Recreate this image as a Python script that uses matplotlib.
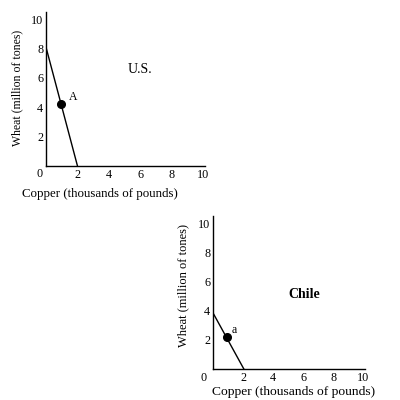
import numpy as np
import matplotlib.pyplot as plt

plt.rcParams['font.family'] = ['Liberation Serif', 'DejaVu Serif']

ticks = [2, 4, 6, 8, 10]
x_label = "Copper (thousands of pounds)"
y_label = "Wheat (million of tones)"

# production possibility lines (copper, wheat)
us_copper = [0, 2.0]
us_wheat = [8.1, 0]
us_point = (0.95, 4.25)

chile_copper = [0, 2.05]
chile_wheat = [3.85, 0]
chile_point = (0.9, 2.2)


def draw_panel(ax, copper, wheat, point, point_name, country, name_pos, country_pos,
               country_weight, zero_pos):
    ax.plot(copper, wheat, color="black", lw=1.0)
    ax.plot(*point, "o", color="black", ms=5.5)
    ax.text(name_pos[0], name_pos[1], point_name, ha="center", va="center", fontsize=8.5)
    ax.text(country_pos[0], country_pos[1], country, ha="center", va="center",
            fontsize=10, fontweight=country_weight)
    ax.set_xlim(0, 10.1)
    ax.set_ylim(0, 10.5)
    for s in ["top", "right"]:
        ax.spines[s].set_visible(False)
    for s in ["left", "bottom"]:
        ax.spines[s].set_linewidth(1.0)
    ax.set_xticks(ticks)
    ax.set_yticks(ticks)
    ax.tick_params(length=0, labelsize=8.7, pad=2)
    ax.text(zero_pos[0], zero_pos[1], "0", ha="center", va="top", fontsize=8.7)


fig = plt.figure(figsize=(4, 4), dpi=100)

ax1 = fig.add_axes([0.115, 0.585, 0.3975, 0.385])
draw_panel(ax1, us_copper, us_wheat, us_point, "A", "U.S.", (1.7, 4.7), (6.0, 6.6),
           "normal", (-0.4, -0.15))
fig.text(0.25, 0.515, x_label, ha="center", va="center", fontsize=9.3)
fig.text(0.043, 0.78, y_label, ha="center", va="center", rotation=90, fontsize=8.5)

ax2 = fig.add_axes([0.5325, 0.0775, 0.38, 0.3825])
draw_panel(ax2, chile_copper, chile_wheat, chile_point, "a", "Chile", (1.4, 2.7), (6.05, 5.1),
           "semibold", (-0.65, -0.2))
fig.text(0.734, 0.021, x_label, ha="center", va="center", fontsize=9.7)
fig.text(0.458, 0.287, y_label, ha="center", va="center", rotation=90, fontsize=9)

fig.savefig("out.png", dpi=100)
